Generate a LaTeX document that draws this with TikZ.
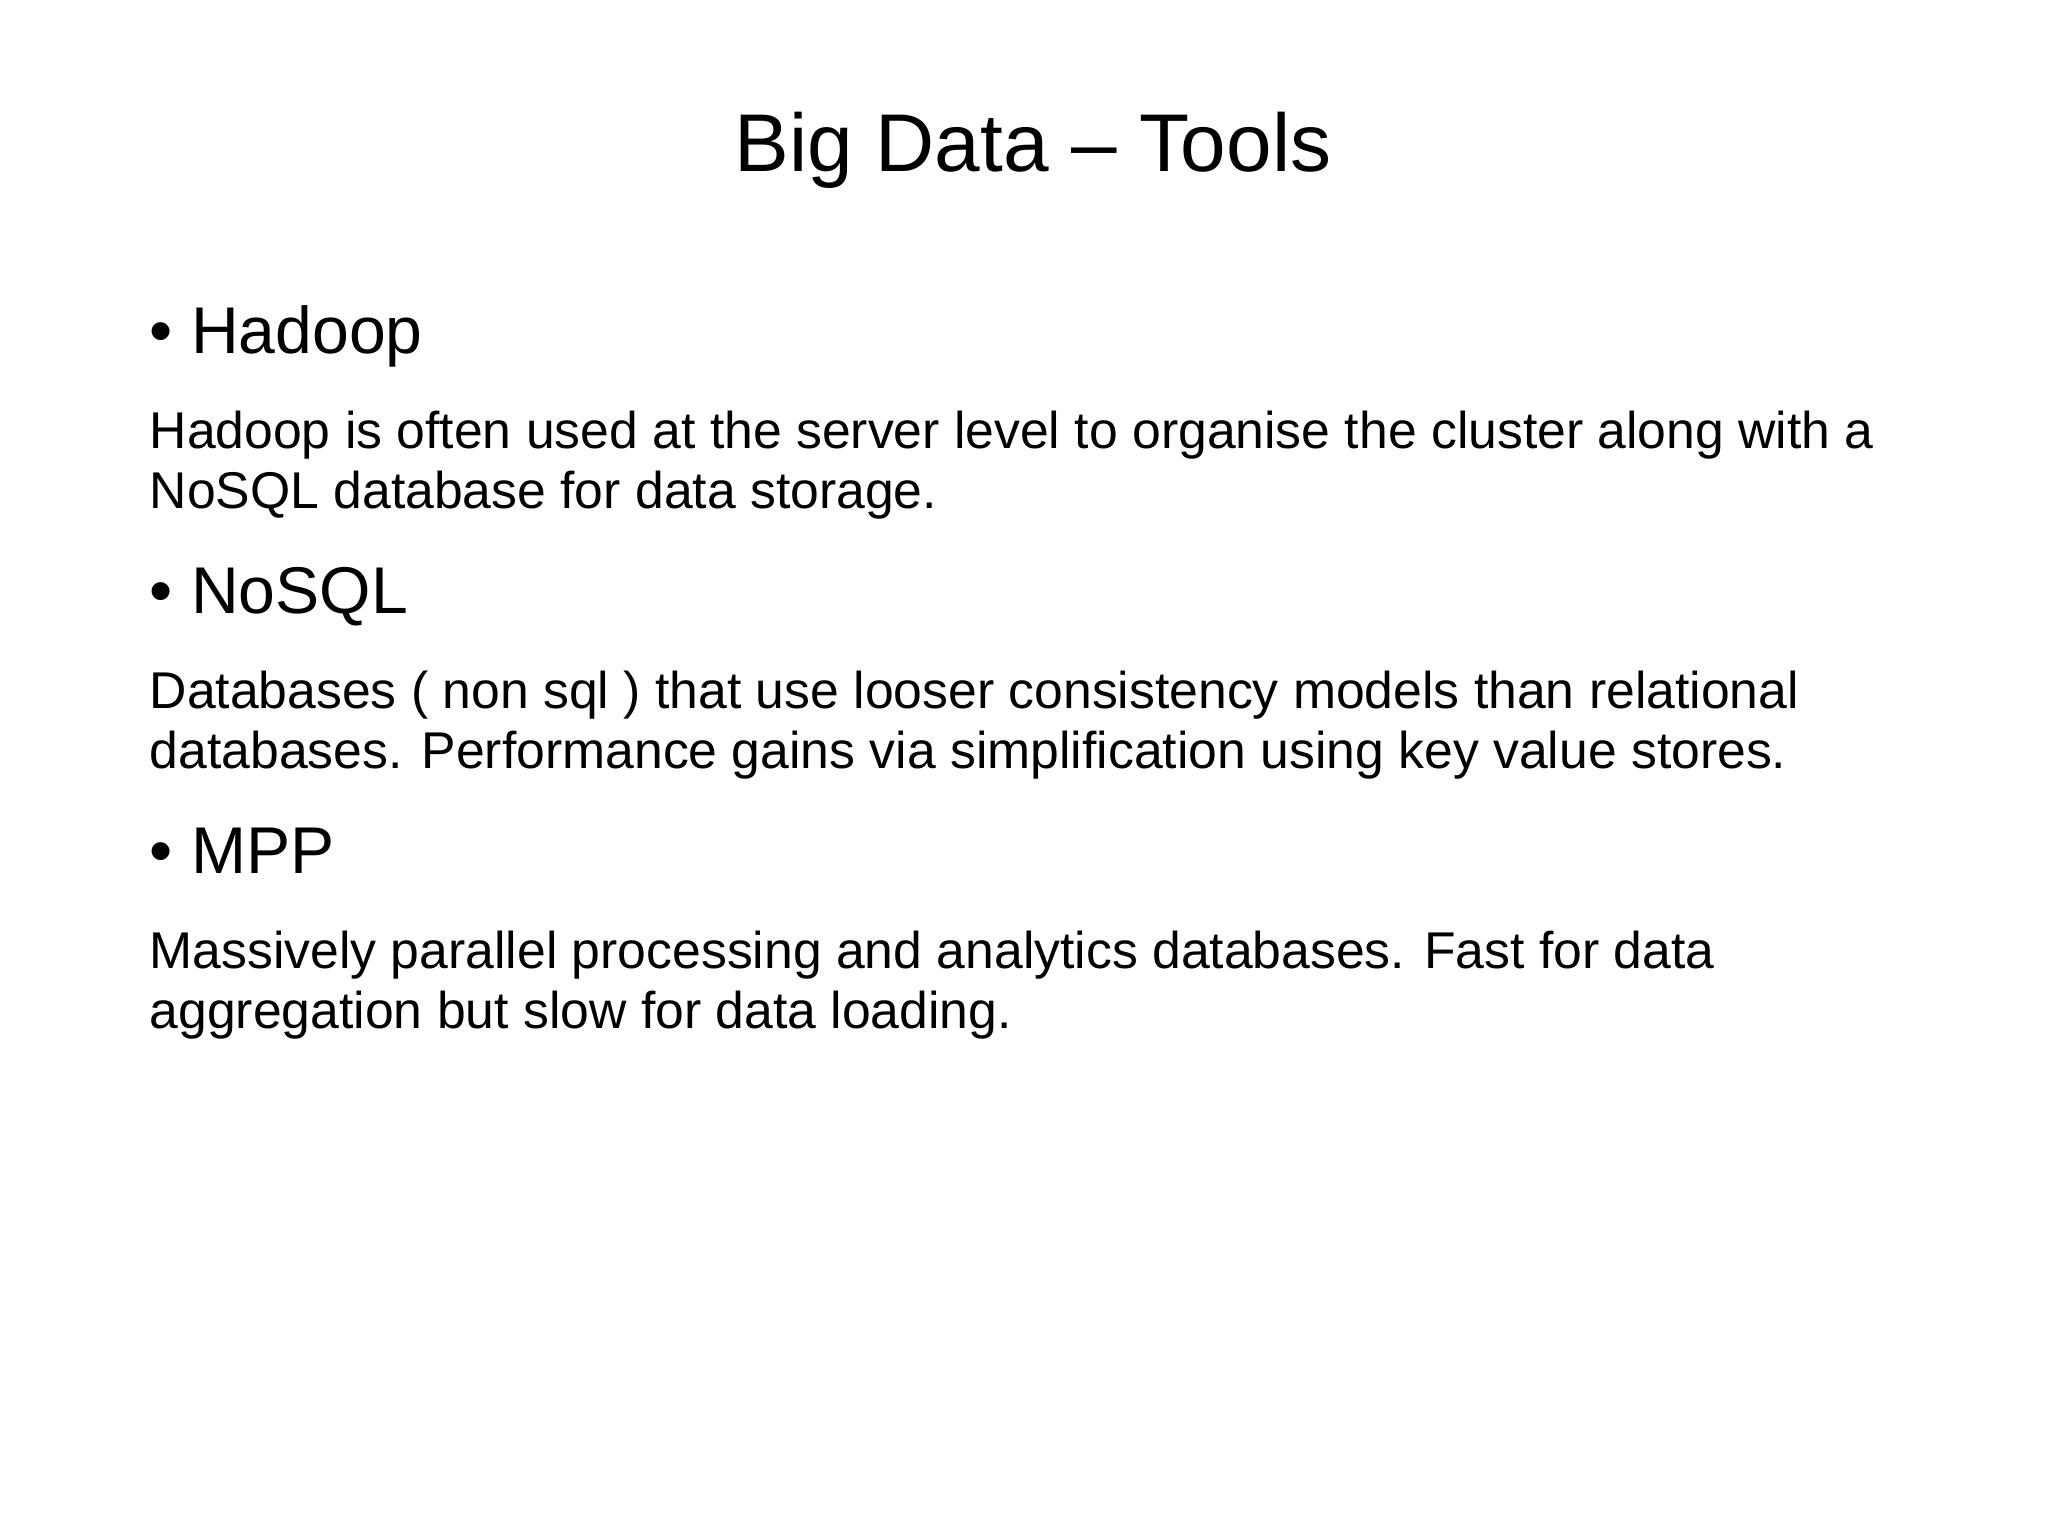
\documentclass[tikz,border=0pt]{standalone}
\usepackage{fontspec}
\setmainfont{Liberation Sans}
\begin{document}
\begin{tikzpicture}[x=0.01cm,y=-0.01cm,
  title/.style={anchor=base,font=\fontsize{23.3}{28}\selectfont,inner sep=0},
  head/.style={anchor=base west,font=\fontsize{18.8}{22}\selectfont,inner sep=0},
  body/.style={anchor=base west,font=\fontsize{14.7}{18}\selectfont,inner sep=0}]
\useasboundingbox[fill=white] (0,0) rectangle (2048,1535);
\node[title] (t) at (1033,171.5) {Big Data – Tools};
\node[head] (h1) at (149,353.7) {• Hadoop};
\node[body] (b1a) at (149,448.7) {Hadoop is often used at the server level to organise the cluster along with a};
\node[body] (b1b) at (149,508) {NoSQL database for data storage.};
\node[head] (h2) at (149,613.6) {• NoSQL};
\node[body] (b2a) at (149,708.6) {Databases ( non sql ) that use looser consistency models than relational};
\node[body] (b2b) at (149,768) {databases. Performance gains via simplification using key value stores.};
\node[head] (h3) at (149,873.6) {• MPP};
\node[body] (b3a) at (149,968.6) {Massively parallel processing and analytics databases. Fast for data};
\node[body] (b3b) at (149,1028) {aggregation but slow for data loading.};
\end{tikzpicture}
\end{document}
